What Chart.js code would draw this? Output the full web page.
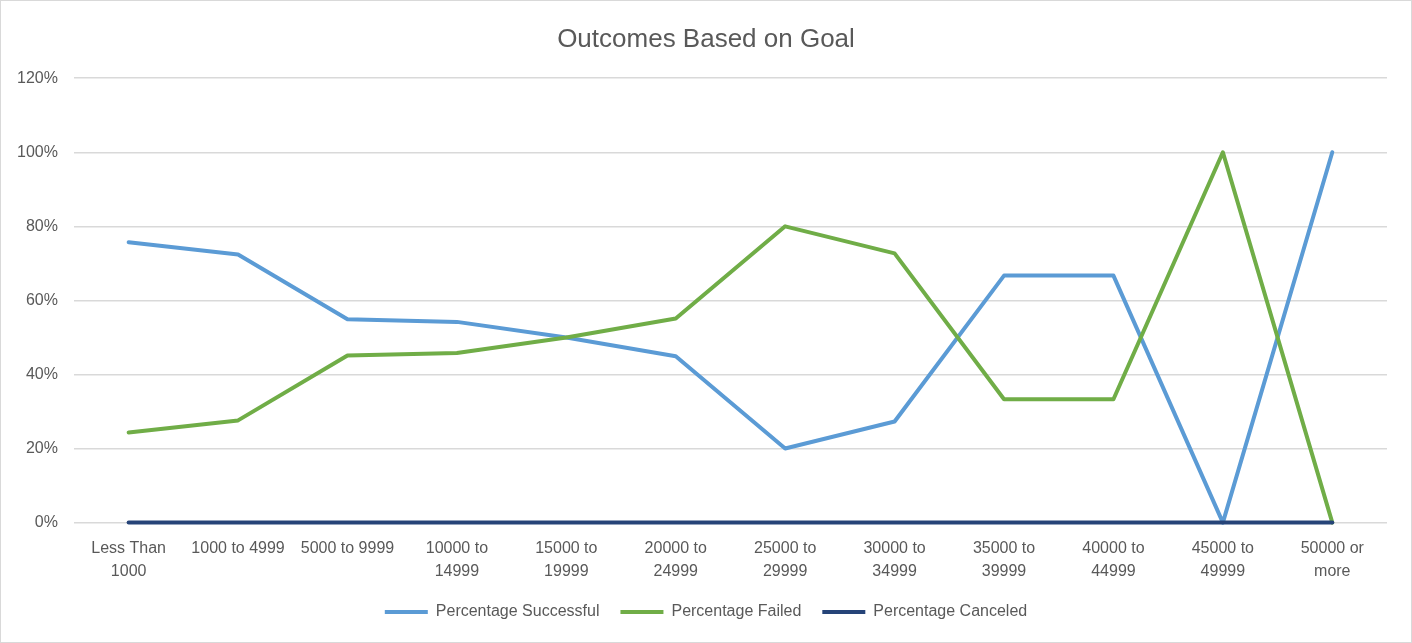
<!DOCTYPE html>
<html>
<head>
<meta charset="utf-8">
<title>Outcomes Based on Goal</title>
<script src="https://cdn.jsdelivr.net/npm/chart.js@4.4.1/dist/chart.umd.min.js"></script>
<style>
  html, body { margin: 0; padding: 0; background: #fff; }
  #wrap {
    width: 1410px;
    height: 641px;
    border: 1px solid #d9d9d9;
    position: relative;
  }
</style>
</head>
<body>
<div id="wrap"><canvas id="goalChart"></canvas></div>
<script>
// goal ranges along the x axis (two-line labels where Excel wrapped them)
const goalLabels = [
  ['Less Than', '1000'], '1000 to 4999', '5000 to 9999',
  ['10000 to', '14999'], ['15000 to', '19999'], ['20000 to', '24999'],
  ['25000 to', '29999'], ['30000 to', '34999'], ['35000 to', '39999'],
  ['40000 to', '44999'], ['45000 to', '49999'], ['50000 or', 'more']
];

// share of projects per outcome (fractions)
const pctSuccessful = [0.757, 0.724, 0.549, 0.542, 0.50, 0.449, 0.20, 0.273, 0.667, 0.667, 0.0, 1.0];
const pctFailed     = [0.243, 0.276, 0.451, 0.458, 0.50, 0.551, 0.80, 0.727, 0.333, 0.333, 1.0, 0.0];
const pctCanceled   = [0, 0, 0, 0, 0, 0, 0, 0, 0, 0, 0, 0];

const textColor = '#595959';
const gridColor = '#d9d9d9';
const fontFamily = '"Liberation Sans", Arial, sans-serif';

function lineSeries(label, data, color, order) {
  return {
    label: label,
    data: data,
    borderColor: color,
    backgroundColor: color,
    borderWidth: 4,
    borderCapStyle: 'round',
    borderJoinStyle: 'round',
    pointRadius: 0,
    pointHoverRadius: 0,
    tension: 0,
    fill: false,
    clip: false, // keep the 0% line whole instead of cut at the plot edge
    order: order
  };
}

const ctx = document.getElementById('goalChart').getContext('2d');
new Chart(ctx, {
  type: 'line',
  data: {
    labels: goalLabels,
    datasets: [
      lineSeries('Percentage Successful', pctSuccessful, '#5b9bd5', 3),
      lineSeries('Percentage Failed', pctFailed, '#70ad47', 2),
      lineSeries('Percentage Canceled', pctCanceled, '#264478', 1)
    ]
  },
  options: {
    responsive: true,
    maintainAspectRatio: false,
    animation: false,
    layout: {
      padding: { left: 0, right: 0, top: 0, bottom: 12 }
    },
    plugins: {
      title: {
        display: true,
        text: 'Outcomes Based on Goal',
        color: textColor,
        font: { family: fontFamily, size: 26, weight: 'normal' },
        padding: { top: 23, bottom: 23 }
      },
      legend: {
        position: 'bottom',
        labels: {
          color: textColor,
          font: { family: fontFamily, size: 16 },
          usePointStyle: true,
          pointStyle: 'line',
          pointStyleWidth: 43,
          padding: 21,
          sort: (a, b) => a.datasetIndex - b.datasetIndex
        }
      },
      tooltip: { enabled: false }
    },
    scales: {
      x: {
        offset: true,
        // invisible tick marks give the gap above the labels without
        // the doubled tick padding below them
        grid: {
          display: true,
          drawOnChartArea: false,
          drawTicks: true,
          tickLength: 14,
          color: 'rgba(0,0,0,0)'
        },
        border: { display: false },
        ticks: {
          color: textColor,
          font: { family: fontFamily, size: 16, lineHeight: 1.45 },
          padding: 0,
          maxRotation: 0,
          autoSkip: false
        }
      },
      y: {
        min: 0,
        max: 1.2,
        grid: { color: gridColor, lineWidth: 1.5, drawTicks: false },
        border: { display: false },
        ticks: {
          stepSize: 0.2,
          color: textColor,
          font: { family: fontFamily, size: 16 },
          padding: 16,
          callback: value => Math.round(value * 100) + '%'
        }
      },
      // empty right-hand strip so title and legend stay centred on the canvas
      yRight: {
        position: 'right',
        display: true,
        grid: { display: false },
        border: { display: false },
        ticks: { display: false },
        afterFit: scale => { scale.width = 24; }
      }
    }
  }
});
</script>
</body>
</html>
